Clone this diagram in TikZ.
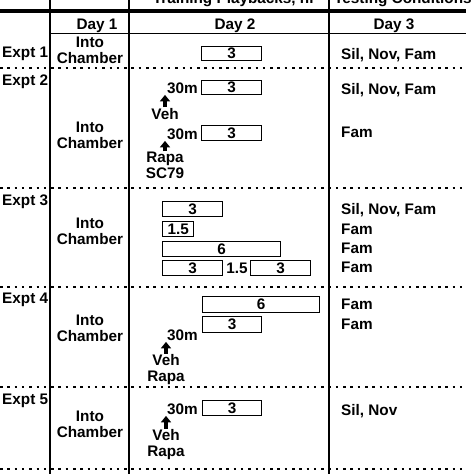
\documentclass[tikz,border=0pt]{standalone}
\usepackage{fontspec}
\setmainfont{Liberation Sans}
\usetikzlibrary{arrows.meta}
\tikzset{
  txt/.style={inner sep=0pt},
  pbox/.style={draw, line width=1.3pt, inner sep=0pt},
  colline/.style={line width=1.5pt},
  dotline/.style={line width=1.3pt, dash pattern=on 2.5pt off 4.8pt},
  uparr/.style={line width=4pt, -{Triangle[width=10pt,length=6.5pt]},
    shorten >=1.5pt, shorten <=0.5pt}
}
\newcommand{\pbbox}[6]{% name, x1, y1, x2, y2, label
  \node[pbox, anchor=north west, minimum width={#4-#2}, minimum height={#5-#3}]
    (#1) at (#2,#3) {#6};}

\begin{document}
\begin{tikzpicture}[x=1pt, y=-1pt,
    font=\fontsize{15.3}{15.5}\selectfont\bfseries]
  \useasboundingbox (0,0) rectangle (474,474);
  \clip (0,0) rectangle (474,474);

  \foreach \x in {50,129,329}
    \draw[colline] (\x,0) -- (\x,474);
  \draw[line width=4pt] (0,11) -- (466,11);
  \draw[line width=1pt] (50,33) -- (466,33);
  \foreach \y in {68,188,287,387,469}
    \draw[dotline] (0,\y) -- (466,\y);

  \node[txt, anchor=base] (hdTrain) at (234,3) {Training Playbacks, hr};
  \node[txt, anchor=base west] (hdTest) at (334,3) {Testing Conditions};
  \node[txt, anchor=base] (day1) at (97,29) {Day 1};
  \node[txt, anchor=base] (day2) at (235,29) {Day 2};
  \node[txt, anchor=base] (day3) at (394,29) {Day 3};

  \foreach \n/\y in {1/57,2/85,3/205,4/303,5/404}
    \node[txt, anchor=base west] (expt\n) at (2,\y) {Expt \n};
  % base of a two-line node sits on its second line
  \foreach \n/\y in {1/63,2/148,3/244,4/341,5/437}
    \node[txt, anchor=base, align=center] (into\n) at (90,\y) {Into\\Chamber};

  \foreach \k/\y/\lab in {a/59/{Sil, Nov, Fam},b/94/{Sil, Nov, Fam},c/137/Fam,
      d/214/{Sil, Nov, Fam},e/234/Fam,f/253/Fam,g/272/Fam,
      h/309/Fam,i/329/Fam,j/415/{Sil, Nov}}
    \node[txt, anchor=base west] (test\k) at (341,\y) {\lab};

  % expt 1
  \pbbox{pbA}{201}{46}{261}{60}{3}
  % expt 2
  \pbbox{pbB}{201}{80}{261}{94}{3}
  \pbbox{pbC}{201}{125}{261}{140}{3}
  \node[txt, anchor=base east] (minB) at (198,93) {30m};
  \node[txt, anchor=base east] (minC) at (198,139) {30m};
  \node[txt, anchor=base] (vehB) at (165,119) {Veh};
  \node[txt, anchor=base, align=center] (rapaC) at (165,178) {Rapa\\SC79};
  \draw[uparr] (vehB.north) -- (vehB.north |- minB.south);
  \draw[uparr] (rapaC.north) -- (rapaC.north |- minC.south);
  % expt 3
  \pbbox{pbD}{162}{201}{222}{216}{3}
  \pbbox{pbE}{162}{221}{193}{236}{1.5}
  \pbbox{pbF}{162}{241}{280}{256}{6}
  \pbbox{pbG}{162}{260}{222}{275}{3}
  \pbbox{pbH}{250}{260}{310}{275}{3}
  \node[txt, anchor=base] (gapG) at (237,273) {1.5};
  % expt 4
  \pbbox{pbI}{202}{296}{319}{312}{6}
  \pbbox{pbJ}{202}{316}{261}{332}{3}
  \node[txt, anchor=base east] (minJ) at (198,340) {30m};
  \node[txt, anchor=base, align=center] (vehJ) at (166,381) {Veh\\Rapa};
  \draw[uparr] (vehJ.north) -- (vehJ.north |- minJ.south);
  % expt 5
  \pbbox{pbK}{202}{400}{261}{415}{3}
  \node[txt, anchor=base east] (minK) at (198,414) {30m};
  \node[txt, anchor=base, align=center] (vehK) at (166,456) {Veh\\Rapa};
  \draw[uparr] (vehK.north) -- (vehK.north |- minK.south);
\end{tikzpicture}
\end{document}
